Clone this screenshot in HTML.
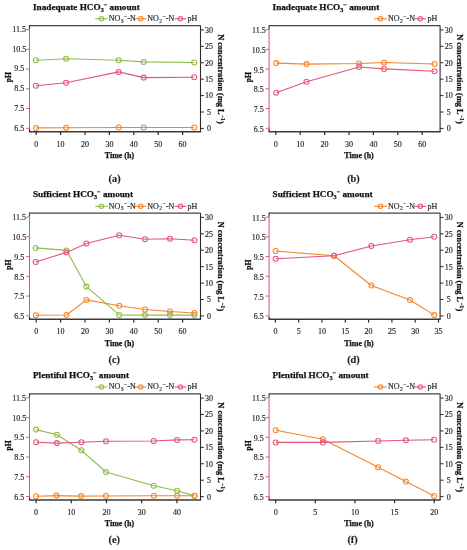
<!DOCTYPE html>
<html><head><meta charset="utf-8"><style>
html,body{margin:0;padding:0;background:#fff;}
svg{display:block;}
#w{width:467px;height:550px;will-change:transform;}
text{font-family:"Liberation Serif",serif;fill:#222;stroke:#222;stroke-width:0.15px;}
text.b{fill:#111;stroke:#111;stroke-width:0.25px;}
</style></head><body>
<div id="w"><svg width="467" height="550" viewBox="0 0 467 550">
<rect width="467" height="550" fill="#fff"/>
<g>
<text x="33" y="9.7" font-size="9.2" font-weight="bold" class="b">Inadequate HCO<tspan font-size="6.2" dy="1.8">3</tspan><tspan font-size="6.2" dy="-4.3">−</tspan><tspan dy="2.5"> amount</tspan></text>
<line x1="95.3" y1="18.8" x2="107.6" y2="18.8" stroke="#8fbb48" stroke-width="1.1"/><circle cx="101.45" cy="18.8" r="2.25" fill="none" stroke="#8fbb48" stroke-width="1.05"/>
<text x="108.7" y="21" font-size="8" text-anchor="start">NO<tspan font-size="5.5" dx="0.5" dy="1.7">3</tspan><tspan font-size="5.5" dx="0.4" dy="-5.0">−</tspan><tspan dx="0.3" dy="3.3">-N</tspan></text>
<line x1="134.9" y1="18.8" x2="146.4" y2="18.8" stroke="#f4852a" stroke-width="1.1"/><circle cx="140.65" cy="18.8" r="2.25" fill="none" stroke="#f4852a" stroke-width="1.05"/>
<text x="147.3" y="21" font-size="8" text-anchor="start">NO<tspan font-size="5.5" dx="0.5" dy="1.7">2</tspan><tspan font-size="5.5" dx="0.4" dy="-5.0">−</tspan><tspan dx="0.3" dy="3.3">-N</tspan></text>
<line x1="174.7" y1="18.8" x2="186.3" y2="18.8" stroke="#e0567a" stroke-width="1.1"/><circle cx="180.5" cy="18.8" r="2.25" fill="none" stroke="#e0567a" stroke-width="1.05"/>
<text x="187.6" y="21" font-size="8">pH</text>
<line x1="29.5" y1="25.6" x2="200.5" y2="25.6" stroke="#444" stroke-width="1.3"/>
<line x1="200.5" y1="25.6" x2="200.5" y2="131.6" stroke="#2a2a2a" stroke-width="1.1"/>
<line x1="29.5" y1="25" x2="29.5" y2="29.2" stroke="#444" stroke-width="1.2"/>
<line x1="29.5" y1="129" x2="29.5" y2="131.6" stroke="#2a2a2a" stroke-width="1.2"/>
<line x1="29.5" y1="29.1" x2="29.5" y2="129.1" stroke="#e0567a" stroke-width="1.05"/>
<line x1="28.9" y1="131.8" x2="201.1" y2="131.8" stroke="#3a3a3a" stroke-width="1.6"/>
<line x1="26.2" y1="29.6" x2="29.5" y2="29.6" stroke="#e0567a" stroke-width="1"/>
<text x="19.2" y="31.9" font-size="8" text-anchor="middle">11.5</text>
<line x1="26.2" y1="49.34" x2="29.5" y2="49.34" stroke="#e0567a" stroke-width="1"/>
<text x="19.2" y="51.64" font-size="8" text-anchor="middle">10.5</text>
<line x1="26.2" y1="69.08" x2="29.5" y2="69.08" stroke="#e0567a" stroke-width="1"/>
<text x="19.2" y="71.38" font-size="8" text-anchor="middle">9.5</text>
<line x1="26.2" y1="88.82" x2="29.5" y2="88.82" stroke="#e0567a" stroke-width="1"/>
<text x="19.2" y="91.12" font-size="8" text-anchor="middle">8.5</text>
<line x1="26.2" y1="108.56" x2="29.5" y2="108.56" stroke="#e0567a" stroke-width="1"/>
<text x="19.2" y="110.86" font-size="8" text-anchor="middle">7.5</text>
<line x1="26.2" y1="128.3" x2="29.5" y2="128.3" stroke="#e0567a" stroke-width="1"/>
<text x="19.2" y="130.6" font-size="8" text-anchor="middle">6.5</text>
<line x1="200.5" y1="29.9" x2="203.9" y2="29.9" stroke="#2a2a2a" stroke-width="1"/>
<text x="209.1" y="32.8" font-size="8" text-anchor="middle">30</text>
<line x1="200.5" y1="46.32" x2="203.9" y2="46.32" stroke="#2a2a2a" stroke-width="1"/>
<text x="209.1" y="49.22" font-size="8" text-anchor="middle">25</text>
<line x1="200.5" y1="62.74" x2="203.9" y2="62.74" stroke="#2a2a2a" stroke-width="1"/>
<text x="209.1" y="65.64" font-size="8" text-anchor="middle">20</text>
<line x1="200.5" y1="79.16" x2="203.9" y2="79.16" stroke="#2a2a2a" stroke-width="1"/>
<text x="209.1" y="82.06" font-size="8" text-anchor="middle">15</text>
<line x1="200.5" y1="95.58" x2="203.9" y2="95.58" stroke="#2a2a2a" stroke-width="1"/>
<text x="209.1" y="98.48" font-size="8" text-anchor="middle">10</text>
<line x1="200.5" y1="112" x2="203.9" y2="112" stroke="#2a2a2a" stroke-width="1"/>
<text x="209.1" y="114.9" font-size="8" text-anchor="middle">5</text>
<line x1="200.5" y1="128.42" x2="203.9" y2="128.42" stroke="#2a2a2a" stroke-width="1"/>
<text x="209.1" y="131.32" font-size="8" text-anchor="middle">0</text>
<line x1="36.2" y1="131.6" x2="36.2" y2="135" stroke="#2a2a2a" stroke-width="1.2"/>
<text x="36.2" y="146.6" font-size="8" text-anchor="middle">0</text>
<line x1="60.6" y1="131.6" x2="60.6" y2="135" stroke="#2a2a2a" stroke-width="1.2"/>
<text x="60.6" y="146.6" font-size="8" text-anchor="middle">10</text>
<line x1="85" y1="131.6" x2="85" y2="135" stroke="#2a2a2a" stroke-width="1.2"/>
<text x="85" y="146.6" font-size="8" text-anchor="middle">20</text>
<line x1="109.4" y1="131.6" x2="109.4" y2="135" stroke="#2a2a2a" stroke-width="1.2"/>
<text x="109.4" y="146.6" font-size="8" text-anchor="middle">30</text>
<line x1="133.8" y1="131.6" x2="133.8" y2="135" stroke="#2a2a2a" stroke-width="1.2"/>
<text x="133.8" y="146.6" font-size="8" text-anchor="middle">40</text>
<line x1="158.2" y1="131.6" x2="158.2" y2="135" stroke="#2a2a2a" stroke-width="1.2"/>
<text x="158.2" y="146.6" font-size="8" text-anchor="middle">50</text>
<line x1="182.6" y1="131.6" x2="182.6" y2="135" stroke="#2a2a2a" stroke-width="1.2"/>
<text x="182.6" y="146.6" font-size="8" text-anchor="middle">60</text>
<text x="119.45" y="158" font-size="8" font-weight="bold" class="b" text-anchor="middle">Time (h)</text>
<text transform="translate(10.9,77.2) rotate(-90)" font-size="7.6" font-weight="bold" class="b" text-anchor="middle">pH</text>
<text transform="translate(217.8,79) rotate(90)" font-size="8.3" font-weight="bold" class="b" text-anchor="middle">N concentration (mg L<tspan font-size="5.5" dx="0.4" dy="-3">−1</tspan><tspan dx="0.3" dy="3">)</tspan></text>
<text x="108.6" y="182.2" font-size="10.3" font-weight="bold" fill="#1a1a1a">(a)</text>
<polyline points="35.8,60.3 66.1,58.7 118.7,60.2 143.7,61.9 194.2,62.5" fill="none" stroke="#8fbb48" stroke-width="1.1" stroke-linejoin="round"/><circle cx="35.8" cy="60.3" r="2.5" fill="none" stroke="#8fbb48" stroke-width="1.05"/><circle cx="66.1" cy="58.7" r="2.5" fill="none" stroke="#8fbb48" stroke-width="1.05"/><circle cx="118.7" cy="60.2" r="2.5" fill="none" stroke="#8fbb48" stroke-width="1.05"/><circle cx="143.7" cy="61.9" r="2.5" fill="none" stroke="#8fbb48" stroke-width="1.05"/><circle cx="194.2" cy="62.5" r="2.5" fill="none" stroke="#8fbb48" stroke-width="1.05"/>
<polyline points="36,127.9 66.1,127.8 118.7,127.5 143.7,127.5 194.2,127.5" fill="none" stroke="#f4852a" stroke-width="1.1" stroke-linejoin="round"/><circle cx="36" cy="127.9" r="2.5" fill="none" stroke="#f4852a" stroke-width="1.05"/><circle cx="66.1" cy="127.8" r="2.5" fill="none" stroke="#f4852a" stroke-width="1.05"/><circle cx="118.7" cy="127.5" r="2.5" fill="none" stroke="#f4852a" stroke-width="1.05"/><circle cx="143.7" cy="127.5" r="2.5" fill="none" stroke="#f4852a" stroke-width="1.05"/><circle cx="194.2" cy="127.5" r="2.5" fill="none" stroke="#f4852a" stroke-width="1.05"/>
<polyline points="35.9,85.7 66.1,82.8 118.7,71.9 143.7,77.6 194.2,77.2" fill="none" stroke="#e0567a" stroke-width="1.1" stroke-linejoin="round"/><circle cx="35.9" cy="85.7" r="2.5" fill="none" stroke="#e0567a" stroke-width="1.05"/><circle cx="66.1" cy="82.8" r="2.5" fill="none" stroke="#e0567a" stroke-width="1.05"/><circle cx="118.7" cy="71.9" r="2.5" fill="none" stroke="#e0567a" stroke-width="1.05"/><circle cx="143.7" cy="77.6" r="2.5" fill="none" stroke="#e0567a" stroke-width="1.05"/><circle cx="194.2" cy="77.2" r="2.5" fill="none" stroke="#e0567a" stroke-width="1.05"/>
<text x="272.6" y="9.7" font-size="9.2" font-weight="bold" class="b">Inadequate HCO<tspan font-size="6.2" dy="1.8">3</tspan><tspan font-size="6.2" dy="-4.3">−</tspan><tspan dy="2.5"> amount</tspan></text>
<line x1="374.2" y1="18.8" x2="386.7" y2="18.8" stroke="#f4852a" stroke-width="1.1"/><circle cx="380.45" cy="18.8" r="2.25" fill="none" stroke="#f4852a" stroke-width="1.05"/>
<text x="387.9" y="21" font-size="8" text-anchor="start">NO<tspan font-size="5.5" dx="0.5" dy="1.7">2</tspan><tspan font-size="5.5" dx="0.4" dy="-5.0">−</tspan><tspan dx="0.3" dy="3.3">-N</tspan></text>
<line x1="414.6" y1="18.8" x2="426.1" y2="18.8" stroke="#e0567a" stroke-width="1.1"/><circle cx="420.35" cy="18.8" r="2.25" fill="none" stroke="#e0567a" stroke-width="1.05"/>
<text x="427.4" y="21" font-size="8">pH</text>
<line x1="269.1" y1="25.6" x2="440.1" y2="25.6" stroke="#444" stroke-width="1.3"/>
<line x1="440.1" y1="25.6" x2="440.1" y2="131.6" stroke="#2a2a2a" stroke-width="1.1"/>
<line x1="269.1" y1="25" x2="269.1" y2="29.2" stroke="#444" stroke-width="1.2"/>
<line x1="269.1" y1="129" x2="269.1" y2="131.6" stroke="#2a2a2a" stroke-width="1.2"/>
<line x1="269.1" y1="29.1" x2="269.1" y2="129.1" stroke="#e0567a" stroke-width="1.05"/>
<line x1="268.5" y1="131.8" x2="440.7" y2="131.8" stroke="#3a3a3a" stroke-width="1.6"/>
<line x1="265.8" y1="29.6" x2="269.1" y2="29.6" stroke="#e0567a" stroke-width="1"/>
<text x="258.8" y="33.25" font-size="8" text-anchor="middle">11.5</text>
<line x1="265.8" y1="49.34" x2="269.1" y2="49.34" stroke="#e0567a" stroke-width="1"/>
<text x="258.8" y="52.99" font-size="8" text-anchor="middle">10.5</text>
<line x1="265.8" y1="69.08" x2="269.1" y2="69.08" stroke="#e0567a" stroke-width="1"/>
<text x="258.8" y="72.73" font-size="8" text-anchor="middle">9.5</text>
<line x1="265.8" y1="88.82" x2="269.1" y2="88.82" stroke="#e0567a" stroke-width="1"/>
<text x="258.8" y="92.47" font-size="8" text-anchor="middle">8.5</text>
<line x1="265.8" y1="108.56" x2="269.1" y2="108.56" stroke="#e0567a" stroke-width="1"/>
<text x="258.8" y="112.21" font-size="8" text-anchor="middle">7.5</text>
<line x1="265.8" y1="128.3" x2="269.1" y2="128.3" stroke="#e0567a" stroke-width="1"/>
<text x="258.8" y="131.95" font-size="8" text-anchor="middle">6.5</text>
<line x1="440.1" y1="29.9" x2="443.5" y2="29.9" stroke="#2a2a2a" stroke-width="1"/>
<text x="448.7" y="32.8" font-size="8" text-anchor="middle">30</text>
<line x1="440.1" y1="46.32" x2="443.5" y2="46.32" stroke="#2a2a2a" stroke-width="1"/>
<text x="448.7" y="49.22" font-size="8" text-anchor="middle">25</text>
<line x1="440.1" y1="62.74" x2="443.5" y2="62.74" stroke="#2a2a2a" stroke-width="1"/>
<text x="448.7" y="65.64" font-size="8" text-anchor="middle">20</text>
<line x1="440.1" y1="79.16" x2="443.5" y2="79.16" stroke="#2a2a2a" stroke-width="1"/>
<text x="448.7" y="82.06" font-size="8" text-anchor="middle">15</text>
<line x1="440.1" y1="95.58" x2="443.5" y2="95.58" stroke="#2a2a2a" stroke-width="1"/>
<text x="448.7" y="98.48" font-size="8" text-anchor="middle">10</text>
<line x1="440.1" y1="112" x2="443.5" y2="112" stroke="#2a2a2a" stroke-width="1"/>
<text x="448.7" y="114.9" font-size="8" text-anchor="middle">5</text>
<line x1="440.1" y1="128.42" x2="443.5" y2="128.42" stroke="#2a2a2a" stroke-width="1"/>
<text x="448.7" y="131.32" font-size="8" text-anchor="middle">0</text>
<line x1="275.8" y1="131.6" x2="275.8" y2="135" stroke="#2a2a2a" stroke-width="1.2"/>
<text x="275.8" y="146.6" font-size="8" text-anchor="middle">0</text>
<line x1="300.2" y1="131.6" x2="300.2" y2="135" stroke="#2a2a2a" stroke-width="1.2"/>
<text x="300.2" y="146.6" font-size="8" text-anchor="middle">10</text>
<line x1="324.6" y1="131.6" x2="324.6" y2="135" stroke="#2a2a2a" stroke-width="1.2"/>
<text x="324.6" y="146.6" font-size="8" text-anchor="middle">20</text>
<line x1="349" y1="131.6" x2="349" y2="135" stroke="#2a2a2a" stroke-width="1.2"/>
<text x="349" y="146.6" font-size="8" text-anchor="middle">30</text>
<line x1="373.4" y1="131.6" x2="373.4" y2="135" stroke="#2a2a2a" stroke-width="1.2"/>
<text x="373.4" y="146.6" font-size="8" text-anchor="middle">40</text>
<line x1="397.8" y1="131.6" x2="397.8" y2="135" stroke="#2a2a2a" stroke-width="1.2"/>
<text x="397.8" y="146.6" font-size="8" text-anchor="middle">50</text>
<line x1="422.2" y1="131.6" x2="422.2" y2="135" stroke="#2a2a2a" stroke-width="1.2"/>
<text x="422.2" y="146.6" font-size="8" text-anchor="middle">60</text>
<text x="359.05" y="158" font-size="8" font-weight="bold" class="b" text-anchor="middle">Time (h)</text>
<text transform="translate(250.5,77.2) rotate(-90)" font-size="7.6" font-weight="bold" class="b" text-anchor="middle">pH</text>
<text transform="translate(457.4,79) rotate(90)" font-size="8.3" font-weight="bold" class="b" text-anchor="middle">N concentration (mg L<tspan font-size="5.5" dx="0.4" dy="-3">−1</tspan><tspan dx="0.3" dy="3">)</tspan></text>
<text x="347.2" y="182.2" font-size="10.3" font-weight="bold" fill="#1a1a1a">(b)</text>
<polyline points="276.2,63.1 306.5,64.1 359.1,63.5 384.1,62.5 434.5,64" fill="none" stroke="#f4852a" stroke-width="1.1" stroke-linejoin="round"/><circle cx="276.2" cy="63.1" r="2.5" fill="none" stroke="#f4852a" stroke-width="1.05"/><circle cx="306.5" cy="64.1" r="2.5" fill="none" stroke="#f4852a" stroke-width="1.05"/><circle cx="359.1" cy="63.5" r="2.5" fill="none" stroke="#f4852a" stroke-width="1.05"/><circle cx="384.1" cy="62.5" r="2.5" fill="none" stroke="#f4852a" stroke-width="1.05"/><circle cx="434.5" cy="64" r="2.5" fill="none" stroke="#f4852a" stroke-width="1.05"/>
<polyline points="276.2,92.8 306.5,81.8 359.1,67 384.1,68.9 434.5,71.3" fill="none" stroke="#e0567a" stroke-width="1.1" stroke-linejoin="round"/><circle cx="276.2" cy="92.8" r="2.5" fill="none" stroke="#e0567a" stroke-width="1.05"/><circle cx="306.5" cy="81.8" r="2.5" fill="none" stroke="#e0567a" stroke-width="1.05"/><circle cx="359.1" cy="67" r="2.5" fill="none" stroke="#e0567a" stroke-width="1.05"/><circle cx="384.1" cy="68.9" r="2.5" fill="none" stroke="#e0567a" stroke-width="1.05"/><circle cx="434.5" cy="71.3" r="2.5" fill="none" stroke="#e0567a" stroke-width="1.05"/>
<text x="33" y="196.8" font-size="9.2" font-weight="bold" class="b">Sufficient HCO<tspan font-size="6.2" dy="1.8">3</tspan><tspan font-size="6.2" dy="-4.3">−</tspan><tspan dy="2.5"> amount</tspan></text>
<line x1="95.3" y1="206.3" x2="107.6" y2="206.3" stroke="#8fbb48" stroke-width="1.1"/><circle cx="101.45" cy="206.3" r="2.25" fill="none" stroke="#8fbb48" stroke-width="1.05"/>
<text x="108.7" y="208.5" font-size="8" text-anchor="start">NO<tspan font-size="5.5" dx="0.5" dy="1.7">3</tspan><tspan font-size="5.5" dx="0.4" dy="-5.0">−</tspan><tspan dx="0.3" dy="3.3">-N</tspan></text>
<line x1="134.9" y1="206.3" x2="146.4" y2="206.3" stroke="#f4852a" stroke-width="1.1"/><circle cx="140.65" cy="206.3" r="2.25" fill="none" stroke="#f4852a" stroke-width="1.05"/>
<text x="147.3" y="208.5" font-size="8" text-anchor="start">NO<tspan font-size="5.5" dx="0.5" dy="1.7">2</tspan><tspan font-size="5.5" dx="0.4" dy="-5.0">−</tspan><tspan dx="0.3" dy="3.3">-N</tspan></text>
<line x1="174.7" y1="206.3" x2="186.3" y2="206.3" stroke="#e0567a" stroke-width="1.1"/><circle cx="180.5" cy="206.3" r="2.25" fill="none" stroke="#e0567a" stroke-width="1.05"/>
<text x="187.6" y="208.5" font-size="8">pH</text>
<line x1="29.5" y1="213.1" x2="200.5" y2="213.1" stroke="#444" stroke-width="1.3"/>
<line x1="200.5" y1="213.1" x2="200.5" y2="319.1" stroke="#2a2a2a" stroke-width="1.1"/>
<line x1="29.5" y1="212.5" x2="29.5" y2="216.7" stroke="#444" stroke-width="1.2"/>
<line x1="29.5" y1="316.5" x2="29.5" y2="319.1" stroke="#2a2a2a" stroke-width="1.2"/>
<line x1="29.5" y1="216.6" x2="29.5" y2="316.6" stroke="#e0567a" stroke-width="1.05"/>
<line x1="28.9" y1="319.3" x2="201.1" y2="319.3" stroke="#3a3a3a" stroke-width="1.6"/>
<line x1="26.2" y1="217.1" x2="29.5" y2="217.1" stroke="#e0567a" stroke-width="1"/>
<text x="19.2" y="220.4" font-size="8" text-anchor="middle">11.5</text>
<line x1="26.2" y1="236.84" x2="29.5" y2="236.84" stroke="#e0567a" stroke-width="1"/>
<text x="19.2" y="240.14" font-size="8" text-anchor="middle">10.5</text>
<line x1="26.2" y1="256.58" x2="29.5" y2="256.58" stroke="#e0567a" stroke-width="1"/>
<text x="19.2" y="259.88" font-size="8" text-anchor="middle">9.5</text>
<line x1="26.2" y1="276.32" x2="29.5" y2="276.32" stroke="#e0567a" stroke-width="1"/>
<text x="19.2" y="279.62" font-size="8" text-anchor="middle">8.5</text>
<line x1="26.2" y1="296.06" x2="29.5" y2="296.06" stroke="#e0567a" stroke-width="1"/>
<text x="19.2" y="299.36" font-size="8" text-anchor="middle">7.5</text>
<line x1="26.2" y1="315.8" x2="29.5" y2="315.8" stroke="#e0567a" stroke-width="1"/>
<text x="19.2" y="319.1" font-size="8" text-anchor="middle">6.5</text>
<line x1="200.5" y1="217.4" x2="203.9" y2="217.4" stroke="#2a2a2a" stroke-width="1"/>
<text x="209.1" y="220.3" font-size="8" text-anchor="middle">30</text>
<line x1="200.5" y1="233.82" x2="203.9" y2="233.82" stroke="#2a2a2a" stroke-width="1"/>
<text x="209.1" y="236.72" font-size="8" text-anchor="middle">25</text>
<line x1="200.5" y1="250.24" x2="203.9" y2="250.24" stroke="#2a2a2a" stroke-width="1"/>
<text x="209.1" y="253.14" font-size="8" text-anchor="middle">20</text>
<line x1="200.5" y1="266.66" x2="203.9" y2="266.66" stroke="#2a2a2a" stroke-width="1"/>
<text x="209.1" y="269.56" font-size="8" text-anchor="middle">15</text>
<line x1="200.5" y1="283.08" x2="203.9" y2="283.08" stroke="#2a2a2a" stroke-width="1"/>
<text x="209.1" y="285.98" font-size="8" text-anchor="middle">10</text>
<line x1="200.5" y1="299.5" x2="203.9" y2="299.5" stroke="#2a2a2a" stroke-width="1"/>
<text x="209.1" y="302.4" font-size="8" text-anchor="middle">5</text>
<line x1="200.5" y1="315.92" x2="203.9" y2="315.92" stroke="#2a2a2a" stroke-width="1"/>
<text x="209.1" y="318.82" font-size="8" text-anchor="middle">0</text>
<line x1="36.2" y1="319.1" x2="36.2" y2="322.5" stroke="#2a2a2a" stroke-width="1.2"/>
<text x="36.2" y="334.1" font-size="8" text-anchor="middle">0</text>
<line x1="60.6" y1="319.1" x2="60.6" y2="322.5" stroke="#2a2a2a" stroke-width="1.2"/>
<text x="60.6" y="334.1" font-size="8" text-anchor="middle">10</text>
<line x1="85" y1="319.1" x2="85" y2="322.5" stroke="#2a2a2a" stroke-width="1.2"/>
<text x="85" y="334.1" font-size="8" text-anchor="middle">20</text>
<line x1="109.4" y1="319.1" x2="109.4" y2="322.5" stroke="#2a2a2a" stroke-width="1.2"/>
<text x="109.4" y="334.1" font-size="8" text-anchor="middle">30</text>
<line x1="133.8" y1="319.1" x2="133.8" y2="322.5" stroke="#2a2a2a" stroke-width="1.2"/>
<text x="133.8" y="334.1" font-size="8" text-anchor="middle">40</text>
<line x1="158.2" y1="319.1" x2="158.2" y2="322.5" stroke="#2a2a2a" stroke-width="1.2"/>
<text x="158.2" y="334.1" font-size="8" text-anchor="middle">50</text>
<line x1="182.6" y1="319.1" x2="182.6" y2="322.5" stroke="#2a2a2a" stroke-width="1.2"/>
<text x="182.6" y="334.1" font-size="8" text-anchor="middle">60</text>
<text x="119.45" y="345.5" font-size="8" font-weight="bold" class="b" text-anchor="middle">Time (h)</text>
<text transform="translate(10.9,264.7) rotate(-90)" font-size="7.6" font-weight="bold" class="b" text-anchor="middle">pH</text>
<text transform="translate(217.8,266.5) rotate(90)" font-size="8.3" font-weight="bold" class="b" text-anchor="middle">N concentration (mg L<tspan font-size="5.5" dx="0.4" dy="-3">−1</tspan><tspan dx="0.3" dy="3">)</tspan></text>
<text x="108.6" y="363.2" font-size="10.3" font-weight="bold" fill="#1a1a1a">(c)</text>
<polyline points="35.7,247.9 66.5,250.4 86.4,286.6 119.2,314.9 145,315.1 170,315.1 194.4,315.1" fill="none" stroke="#8fbb48" stroke-width="1.1" stroke-linejoin="round"/><circle cx="35.7" cy="247.9" r="2.5" fill="none" stroke="#8fbb48" stroke-width="1.05"/><circle cx="66.5" cy="250.4" r="2.5" fill="none" stroke="#8fbb48" stroke-width="1.05"/><circle cx="86.4" cy="286.6" r="2.5" fill="none" stroke="#8fbb48" stroke-width="1.05"/><circle cx="119.2" cy="314.9" r="2.5" fill="none" stroke="#8fbb48" stroke-width="1.05"/><circle cx="145" cy="315.1" r="2.5" fill="none" stroke="#8fbb48" stroke-width="1.05"/><circle cx="170" cy="315.1" r="2.5" fill="none" stroke="#8fbb48" stroke-width="1.05"/><circle cx="194.4" cy="315.1" r="2.5" fill="none" stroke="#8fbb48" stroke-width="1.05"/>
<polyline points="35.9,315.2 66.5,315 86.4,299.9 119.2,305.7 145,309.5 170,311.5 194.4,313" fill="none" stroke="#f4852a" stroke-width="1.1" stroke-linejoin="round"/><circle cx="35.9" cy="315.2" r="2.5" fill="none" stroke="#f4852a" stroke-width="1.05"/><circle cx="66.5" cy="315" r="2.5" fill="none" stroke="#f4852a" stroke-width="1.05"/><circle cx="86.4" cy="299.9" r="2.5" fill="none" stroke="#f4852a" stroke-width="1.05"/><circle cx="119.2" cy="305.7" r="2.5" fill="none" stroke="#f4852a" stroke-width="1.05"/><circle cx="145" cy="309.5" r="2.5" fill="none" stroke="#f4852a" stroke-width="1.05"/><circle cx="170" cy="311.5" r="2.5" fill="none" stroke="#f4852a" stroke-width="1.05"/><circle cx="194.4" cy="313" r="2.5" fill="none" stroke="#f4852a" stroke-width="1.05"/>
<polyline points="35.7,262 66.5,252.4 86.4,243.5 119.2,235.3 145,239.3 170,238.7 194.4,240.3" fill="none" stroke="#e0567a" stroke-width="1.1" stroke-linejoin="round"/><circle cx="35.7" cy="262" r="2.5" fill="none" stroke="#e0567a" stroke-width="1.05"/><circle cx="66.5" cy="252.4" r="2.5" fill="none" stroke="#e0567a" stroke-width="1.05"/><circle cx="86.4" cy="243.5" r="2.5" fill="none" stroke="#e0567a" stroke-width="1.05"/><circle cx="119.2" cy="235.3" r="2.5" fill="none" stroke="#e0567a" stroke-width="1.05"/><circle cx="145" cy="239.3" r="2.5" fill="none" stroke="#e0567a" stroke-width="1.05"/><circle cx="170" cy="238.7" r="2.5" fill="none" stroke="#e0567a" stroke-width="1.05"/><circle cx="194.4" cy="240.3" r="2.5" fill="none" stroke="#e0567a" stroke-width="1.05"/>
<text x="272.6" y="196.8" font-size="9.2" font-weight="bold" class="b">Sufficient HCO<tspan font-size="6.2" dy="1.8">3</tspan><tspan font-size="6.2" dy="-4.3">−</tspan><tspan dy="2.5"> amount</tspan></text>
<line x1="374.2" y1="206.3" x2="386.7" y2="206.3" stroke="#f4852a" stroke-width="1.1"/><circle cx="380.45" cy="206.3" r="2.25" fill="none" stroke="#f4852a" stroke-width="1.05"/>
<text x="387.9" y="208.5" font-size="8" text-anchor="start">NO<tspan font-size="5.5" dx="0.5" dy="1.7">2</tspan><tspan font-size="5.5" dx="0.4" dy="-5.0">−</tspan><tspan dx="0.3" dy="3.3">-N</tspan></text>
<line x1="414.6" y1="206.3" x2="426.1" y2="206.3" stroke="#e0567a" stroke-width="1.1"/><circle cx="420.35" cy="206.3" r="2.25" fill="none" stroke="#e0567a" stroke-width="1.05"/>
<text x="427.4" y="208.5" font-size="8">pH</text>
<line x1="269.1" y1="213.1" x2="440.1" y2="213.1" stroke="#444" stroke-width="1.3"/>
<line x1="440.1" y1="213.1" x2="440.1" y2="319.1" stroke="#2a2a2a" stroke-width="1.1"/>
<line x1="269.1" y1="212.5" x2="269.1" y2="216.7" stroke="#444" stroke-width="1.2"/>
<line x1="269.1" y1="316.5" x2="269.1" y2="319.1" stroke="#2a2a2a" stroke-width="1.2"/>
<line x1="269.1" y1="216.6" x2="269.1" y2="316.6" stroke="#e0567a" stroke-width="1.05"/>
<line x1="268.5" y1="319.3" x2="440.7" y2="319.3" stroke="#3a3a3a" stroke-width="1.6"/>
<line x1="265.8" y1="217.1" x2="269.1" y2="217.1" stroke="#e0567a" stroke-width="1"/>
<text x="258.8" y="220.7" font-size="8" text-anchor="middle">11.5</text>
<line x1="265.8" y1="236.84" x2="269.1" y2="236.84" stroke="#e0567a" stroke-width="1"/>
<text x="258.8" y="240.44" font-size="8" text-anchor="middle">10.5</text>
<line x1="265.8" y1="256.58" x2="269.1" y2="256.58" stroke="#e0567a" stroke-width="1"/>
<text x="258.8" y="260.18" font-size="8" text-anchor="middle">9.5</text>
<line x1="265.8" y1="276.32" x2="269.1" y2="276.32" stroke="#e0567a" stroke-width="1"/>
<text x="258.8" y="279.92" font-size="8" text-anchor="middle">8.5</text>
<line x1="265.8" y1="296.06" x2="269.1" y2="296.06" stroke="#e0567a" stroke-width="1"/>
<text x="258.8" y="299.66" font-size="8" text-anchor="middle">7.5</text>
<line x1="265.8" y1="315.8" x2="269.1" y2="315.8" stroke="#e0567a" stroke-width="1"/>
<text x="258.8" y="319.4" font-size="8" text-anchor="middle">6.5</text>
<line x1="440.1" y1="217.4" x2="443.5" y2="217.4" stroke="#2a2a2a" stroke-width="1"/>
<text x="448.7" y="220.3" font-size="8" text-anchor="middle">30</text>
<line x1="440.1" y1="233.82" x2="443.5" y2="233.82" stroke="#2a2a2a" stroke-width="1"/>
<text x="448.7" y="236.72" font-size="8" text-anchor="middle">25</text>
<line x1="440.1" y1="250.24" x2="443.5" y2="250.24" stroke="#2a2a2a" stroke-width="1"/>
<text x="448.7" y="253.14" font-size="8" text-anchor="middle">20</text>
<line x1="440.1" y1="266.66" x2="443.5" y2="266.66" stroke="#2a2a2a" stroke-width="1"/>
<text x="448.7" y="269.56" font-size="8" text-anchor="middle">15</text>
<line x1="440.1" y1="283.08" x2="443.5" y2="283.08" stroke="#2a2a2a" stroke-width="1"/>
<text x="448.7" y="285.98" font-size="8" text-anchor="middle">10</text>
<line x1="440.1" y1="299.5" x2="443.5" y2="299.5" stroke="#2a2a2a" stroke-width="1"/>
<text x="448.7" y="302.4" font-size="8" text-anchor="middle">5</text>
<line x1="440.1" y1="315.92" x2="443.5" y2="315.92" stroke="#2a2a2a" stroke-width="1"/>
<text x="448.7" y="318.82" font-size="8" text-anchor="middle">0</text>
<line x1="275.4" y1="319.1" x2="275.4" y2="322.5" stroke="#2a2a2a" stroke-width="1.2"/>
<text x="275.4" y="334.1" font-size="8" text-anchor="middle">0</text>
<line x1="298.7" y1="319.1" x2="298.7" y2="322.5" stroke="#2a2a2a" stroke-width="1.2"/>
<text x="298.7" y="334.1" font-size="8" text-anchor="middle">5</text>
<line x1="322" y1="319.1" x2="322" y2="322.5" stroke="#2a2a2a" stroke-width="1.2"/>
<text x="322" y="334.1" font-size="8" text-anchor="middle">10</text>
<line x1="345.3" y1="319.1" x2="345.3" y2="322.5" stroke="#2a2a2a" stroke-width="1.2"/>
<text x="345.3" y="334.1" font-size="8" text-anchor="middle">15</text>
<line x1="368.6" y1="319.1" x2="368.6" y2="322.5" stroke="#2a2a2a" stroke-width="1.2"/>
<text x="368.6" y="334.1" font-size="8" text-anchor="middle">20</text>
<line x1="391.9" y1="319.1" x2="391.9" y2="322.5" stroke="#2a2a2a" stroke-width="1.2"/>
<text x="391.9" y="334.1" font-size="8" text-anchor="middle">25</text>
<line x1="415.2" y1="319.1" x2="415.2" y2="322.5" stroke="#2a2a2a" stroke-width="1.2"/>
<text x="415.2" y="334.1" font-size="8" text-anchor="middle">30</text>
<line x1="438.5" y1="319.1" x2="438.5" y2="322.5" stroke="#2a2a2a" stroke-width="1.2"/>
<text x="438.5" y="334.1" font-size="8" text-anchor="middle">35</text>
<text x="359.05" y="345.5" font-size="8" font-weight="bold" class="b" text-anchor="middle">Time (h)</text>
<text transform="translate(250.5,264.7) rotate(-90)" font-size="7.6" font-weight="bold" class="b" text-anchor="middle">pH</text>
<text transform="translate(457.4,266.5) rotate(90)" font-size="8.3" font-weight="bold" class="b" text-anchor="middle">N concentration (mg L<tspan font-size="5.5" dx="0.4" dy="-3">−1</tspan><tspan dx="0.3" dy="3">)</tspan></text>
<text x="347.2" y="363.2" font-size="10.3" font-weight="bold" fill="#1a1a1a">(d)</text>
<polyline points="275.7,251 334,255.8 371.4,285.5 410,300 434.2,315.1" fill="none" stroke="#f4852a" stroke-width="1.1" stroke-linejoin="round"/><circle cx="275.7" cy="251" r="2.5" fill="none" stroke="#f4852a" stroke-width="1.05"/><circle cx="334" cy="255.8" r="2.5" fill="none" stroke="#f4852a" stroke-width="1.05"/><circle cx="371.4" cy="285.5" r="2.5" fill="none" stroke="#f4852a" stroke-width="1.05"/><circle cx="410" cy="300" r="2.5" fill="none" stroke="#f4852a" stroke-width="1.05"/><circle cx="434.2" cy="315.1" r="2.5" fill="none" stroke="#f4852a" stroke-width="1.05"/>
<polyline points="275.7,258.7 334,255.8 371.4,246 410,239.7 434.2,236.7" fill="none" stroke="#e0567a" stroke-width="1.1" stroke-linejoin="round"/><circle cx="275.7" cy="258.7" r="2.5" fill="none" stroke="#e0567a" stroke-width="1.05"/><circle cx="334" cy="255.8" r="2.5" fill="none" stroke="#e0567a" stroke-width="1.05"/><circle cx="371.4" cy="246" r="2.5" fill="none" stroke="#e0567a" stroke-width="1.05"/><circle cx="410" cy="239.7" r="2.5" fill="none" stroke="#e0567a" stroke-width="1.05"/><circle cx="434.2" cy="236.7" r="2.5" fill="none" stroke="#e0567a" stroke-width="1.05"/>
<text x="33" y="377.9" font-size="9.2" font-weight="bold" class="b">Plentiful HCO<tspan font-size="6.2" dy="1.8">3</tspan><tspan font-size="6.2" dy="-4.3">−</tspan><tspan dy="2.5"> amount</tspan></text>
<line x1="95.3" y1="387" x2="107.6" y2="387" stroke="#8fbb48" stroke-width="1.1"/><circle cx="101.45" cy="387" r="2.25" fill="none" stroke="#8fbb48" stroke-width="1.05"/>
<text x="108.7" y="389.2" font-size="8" text-anchor="start">NO<tspan font-size="5.5" dx="0.5" dy="1.7">3</tspan><tspan font-size="5.5" dx="0.4" dy="-5.0">−</tspan><tspan dx="0.3" dy="3.3">-N</tspan></text>
<line x1="134.9" y1="387" x2="146.4" y2="387" stroke="#f4852a" stroke-width="1.1"/><circle cx="140.65" cy="387" r="2.25" fill="none" stroke="#f4852a" stroke-width="1.05"/>
<text x="147.3" y="389.2" font-size="8" text-anchor="start">NO<tspan font-size="5.5" dx="0.5" dy="1.7">2</tspan><tspan font-size="5.5" dx="0.4" dy="-5.0">−</tspan><tspan dx="0.3" dy="3.3">-N</tspan></text>
<line x1="174.7" y1="387" x2="186.3" y2="387" stroke="#e0567a" stroke-width="1.1"/><circle cx="180.5" cy="387" r="2.25" fill="none" stroke="#e0567a" stroke-width="1.05"/>
<text x="187.6" y="389.2" font-size="8">pH</text>
<line x1="29.5" y1="393.8" x2="200.5" y2="393.8" stroke="#444" stroke-width="1.3"/>
<line x1="200.5" y1="393.8" x2="200.5" y2="499.8" stroke="#2a2a2a" stroke-width="1.1"/>
<line x1="29.5" y1="393.2" x2="29.5" y2="397.4" stroke="#444" stroke-width="1.2"/>
<line x1="29.5" y1="497.2" x2="29.5" y2="499.8" stroke="#2a2a2a" stroke-width="1.2"/>
<line x1="29.5" y1="397.3" x2="29.5" y2="497.3" stroke="#e0567a" stroke-width="1.05"/>
<line x1="28.9" y1="500" x2="201.1" y2="500" stroke="#3a3a3a" stroke-width="1.6"/>
<line x1="26.2" y1="397.8" x2="29.5" y2="397.8" stroke="#e0567a" stroke-width="1"/>
<text x="19.2" y="400.9" font-size="8" text-anchor="middle">11.5</text>
<line x1="26.2" y1="417.54" x2="29.5" y2="417.54" stroke="#e0567a" stroke-width="1"/>
<text x="19.2" y="420.64" font-size="8" text-anchor="middle">10.5</text>
<line x1="26.2" y1="437.28" x2="29.5" y2="437.28" stroke="#e0567a" stroke-width="1"/>
<text x="19.2" y="440.38" font-size="8" text-anchor="middle">9.5</text>
<line x1="26.2" y1="457.02" x2="29.5" y2="457.02" stroke="#e0567a" stroke-width="1"/>
<text x="19.2" y="460.12" font-size="8" text-anchor="middle">8.5</text>
<line x1="26.2" y1="476.76" x2="29.5" y2="476.76" stroke="#e0567a" stroke-width="1"/>
<text x="19.2" y="479.86" font-size="8" text-anchor="middle">7.5</text>
<line x1="26.2" y1="496.5" x2="29.5" y2="496.5" stroke="#e0567a" stroke-width="1"/>
<text x="19.2" y="499.6" font-size="8" text-anchor="middle">6.5</text>
<line x1="200.5" y1="398.1" x2="203.9" y2="398.1" stroke="#2a2a2a" stroke-width="1"/>
<text x="209.1" y="401" font-size="8" text-anchor="middle">30</text>
<line x1="200.5" y1="414.52" x2="203.9" y2="414.52" stroke="#2a2a2a" stroke-width="1"/>
<text x="209.1" y="417.42" font-size="8" text-anchor="middle">25</text>
<line x1="200.5" y1="430.94" x2="203.9" y2="430.94" stroke="#2a2a2a" stroke-width="1"/>
<text x="209.1" y="433.84" font-size="8" text-anchor="middle">20</text>
<line x1="200.5" y1="447.36" x2="203.9" y2="447.36" stroke="#2a2a2a" stroke-width="1"/>
<text x="209.1" y="450.26" font-size="8" text-anchor="middle">15</text>
<line x1="200.5" y1="463.78" x2="203.9" y2="463.78" stroke="#2a2a2a" stroke-width="1"/>
<text x="209.1" y="466.68" font-size="8" text-anchor="middle">10</text>
<line x1="200.5" y1="480.2" x2="203.9" y2="480.2" stroke="#2a2a2a" stroke-width="1"/>
<text x="209.1" y="483.1" font-size="8" text-anchor="middle">5</text>
<line x1="200.5" y1="496.62" x2="203.9" y2="496.62" stroke="#2a2a2a" stroke-width="1"/>
<text x="209.1" y="499.52" font-size="8" text-anchor="middle">0</text>
<line x1="36.1" y1="499.8" x2="36.1" y2="503.2" stroke="#2a2a2a" stroke-width="1.2"/>
<text x="36.1" y="514.8" font-size="8" text-anchor="middle">0</text>
<line x1="71.3" y1="499.8" x2="71.3" y2="503.2" stroke="#2a2a2a" stroke-width="1.2"/>
<text x="71.3" y="514.8" font-size="8" text-anchor="middle">10</text>
<line x1="106.5" y1="499.8" x2="106.5" y2="503.2" stroke="#2a2a2a" stroke-width="1.2"/>
<text x="106.5" y="514.8" font-size="8" text-anchor="middle">20</text>
<line x1="141.7" y1="499.8" x2="141.7" y2="503.2" stroke="#2a2a2a" stroke-width="1.2"/>
<text x="141.7" y="514.8" font-size="8" text-anchor="middle">30</text>
<line x1="176.9" y1="499.8" x2="176.9" y2="503.2" stroke="#2a2a2a" stroke-width="1.2"/>
<text x="176.9" y="514.8" font-size="8" text-anchor="middle">40</text>
<text x="119.45" y="526.2" font-size="8" font-weight="bold" class="b" text-anchor="middle">Time (h)</text>
<text transform="translate(10.9,445.4) rotate(-90)" font-size="7.6" font-weight="bold" class="b" text-anchor="middle">pH</text>
<text transform="translate(217.8,447.2) rotate(90)" font-size="8.3" font-weight="bold" class="b" text-anchor="middle">N concentration (mg L<tspan font-size="5.5" dx="0.4" dy="-3">−1</tspan><tspan dx="0.3" dy="3">)</tspan></text>
<text x="108.6" y="543.2" font-size="10.3" font-weight="bold" fill="#1a1a1a">(e)</text>
<polyline points="36.1,429.6 56.9,434.8 81.4,450.3 106,472 153.7,485.7 177.1,490.8 194.4,495.9" fill="none" stroke="#8fbb48" stroke-width="1.1" stroke-linejoin="round"/><circle cx="36.1" cy="429.6" r="2.5" fill="none" stroke="#8fbb48" stroke-width="1.05"/><circle cx="56.9" cy="434.8" r="2.5" fill="none" stroke="#8fbb48" stroke-width="1.05"/><circle cx="81.4" cy="450.3" r="2.5" fill="none" stroke="#8fbb48" stroke-width="1.05"/><circle cx="106" cy="472" r="2.5" fill="none" stroke="#8fbb48" stroke-width="1.05"/><circle cx="153.7" cy="485.7" r="2.5" fill="none" stroke="#8fbb48" stroke-width="1.05"/><circle cx="177.1" cy="490.8" r="2.5" fill="none" stroke="#8fbb48" stroke-width="1.05"/><circle cx="194.4" cy="495.9" r="2.5" fill="none" stroke="#8fbb48" stroke-width="1.05"/>
<polyline points="36.1,496.2 56.5,495.6 81,496.1 106,496 153.9,495.8 177,495.8 194.6,495.8" fill="none" stroke="#f4852a" stroke-width="1.1" stroke-linejoin="round"/><circle cx="36.1" cy="496.2" r="2.5" fill="none" stroke="#f4852a" stroke-width="1.05"/><circle cx="56.5" cy="495.6" r="2.5" fill="none" stroke="#f4852a" stroke-width="1.05"/><circle cx="81" cy="496.1" r="2.5" fill="none" stroke="#f4852a" stroke-width="1.05"/><circle cx="106" cy="496" r="2.5" fill="none" stroke="#f4852a" stroke-width="1.05"/><circle cx="153.9" cy="495.8" r="2.5" fill="none" stroke="#f4852a" stroke-width="1.05"/><circle cx="177" cy="495.8" r="2.5" fill="none" stroke="#f4852a" stroke-width="1.05"/><circle cx="194.6" cy="495.8" r="2.5" fill="none" stroke="#f4852a" stroke-width="1.05"/>
<polyline points="36.1,442.2 56.9,443.1 81.4,442.2 106,441.2 153.7,441 177.1,439.9 194.4,439.7" fill="none" stroke="#e0567a" stroke-width="1.1" stroke-linejoin="round"/><circle cx="36.1" cy="442.2" r="2.5" fill="none" stroke="#e0567a" stroke-width="1.05"/><circle cx="56.9" cy="443.1" r="2.5" fill="none" stroke="#e0567a" stroke-width="1.05"/><circle cx="81.4" cy="442.2" r="2.5" fill="none" stroke="#e0567a" stroke-width="1.05"/><circle cx="106" cy="441.2" r="2.5" fill="none" stroke="#e0567a" stroke-width="1.05"/><circle cx="153.7" cy="441" r="2.5" fill="none" stroke="#e0567a" stroke-width="1.05"/><circle cx="177.1" cy="439.9" r="2.5" fill="none" stroke="#e0567a" stroke-width="1.05"/><circle cx="194.4" cy="439.7" r="2.5" fill="none" stroke="#e0567a" stroke-width="1.05"/>
<text x="272.6" y="377.9" font-size="9.2" font-weight="bold" class="b">Plentiful HCO<tspan font-size="6.2" dy="1.8">3</tspan><tspan font-size="6.2" dy="-4.3">−</tspan><tspan dy="2.5"> amount</tspan></text>
<line x1="374.2" y1="387" x2="386.7" y2="387" stroke="#f4852a" stroke-width="1.1"/><circle cx="380.45" cy="387" r="2.25" fill="none" stroke="#f4852a" stroke-width="1.05"/>
<text x="387.9" y="389.2" font-size="8" text-anchor="start">NO<tspan font-size="5.5" dx="0.5" dy="1.7">2</tspan><tspan font-size="5.5" dx="0.4" dy="-5.0">−</tspan><tspan dx="0.3" dy="3.3">-N</tspan></text>
<line x1="414.6" y1="387" x2="426.1" y2="387" stroke="#e0567a" stroke-width="1.1"/><circle cx="420.35" cy="387" r="2.25" fill="none" stroke="#e0567a" stroke-width="1.05"/>
<text x="427.4" y="389.2" font-size="8">pH</text>
<line x1="269.1" y1="393.8" x2="440.1" y2="393.8" stroke="#444" stroke-width="1.3"/>
<line x1="440.1" y1="393.8" x2="440.1" y2="499.8" stroke="#2a2a2a" stroke-width="1.1"/>
<line x1="269.1" y1="393.2" x2="269.1" y2="397.4" stroke="#444" stroke-width="1.2"/>
<line x1="269.1" y1="497.2" x2="269.1" y2="499.8" stroke="#2a2a2a" stroke-width="1.2"/>
<line x1="269.1" y1="397.3" x2="269.1" y2="497.3" stroke="#e0567a" stroke-width="1.05"/>
<line x1="268.5" y1="500" x2="440.7" y2="500" stroke="#3a3a3a" stroke-width="1.6"/>
<line x1="265.8" y1="397.8" x2="269.1" y2="397.8" stroke="#e0567a" stroke-width="1"/>
<text x="258.8" y="401.1" font-size="8" text-anchor="middle">11.5</text>
<line x1="265.8" y1="417.54" x2="269.1" y2="417.54" stroke="#e0567a" stroke-width="1"/>
<text x="258.8" y="420.84" font-size="8" text-anchor="middle">10.5</text>
<line x1="265.8" y1="437.28" x2="269.1" y2="437.28" stroke="#e0567a" stroke-width="1"/>
<text x="258.8" y="440.58" font-size="8" text-anchor="middle">9.5</text>
<line x1="265.8" y1="457.02" x2="269.1" y2="457.02" stroke="#e0567a" stroke-width="1"/>
<text x="258.8" y="460.32" font-size="8" text-anchor="middle">8.5</text>
<line x1="265.8" y1="476.76" x2="269.1" y2="476.76" stroke="#e0567a" stroke-width="1"/>
<text x="258.8" y="480.06" font-size="8" text-anchor="middle">7.5</text>
<line x1="265.8" y1="496.5" x2="269.1" y2="496.5" stroke="#e0567a" stroke-width="1"/>
<text x="258.8" y="499.8" font-size="8" text-anchor="middle">6.5</text>
<line x1="440.1" y1="398.1" x2="443.5" y2="398.1" stroke="#2a2a2a" stroke-width="1"/>
<text x="448.7" y="401" font-size="8" text-anchor="middle">30</text>
<line x1="440.1" y1="414.52" x2="443.5" y2="414.52" stroke="#2a2a2a" stroke-width="1"/>
<text x="448.7" y="417.42" font-size="8" text-anchor="middle">25</text>
<line x1="440.1" y1="430.94" x2="443.5" y2="430.94" stroke="#2a2a2a" stroke-width="1"/>
<text x="448.7" y="433.84" font-size="8" text-anchor="middle">20</text>
<line x1="440.1" y1="447.36" x2="443.5" y2="447.36" stroke="#2a2a2a" stroke-width="1"/>
<text x="448.7" y="450.26" font-size="8" text-anchor="middle">15</text>
<line x1="440.1" y1="463.78" x2="443.5" y2="463.78" stroke="#2a2a2a" stroke-width="1"/>
<text x="448.7" y="466.68" font-size="8" text-anchor="middle">10</text>
<line x1="440.1" y1="480.2" x2="443.5" y2="480.2" stroke="#2a2a2a" stroke-width="1"/>
<text x="448.7" y="483.1" font-size="8" text-anchor="middle">5</text>
<line x1="440.1" y1="496.62" x2="443.5" y2="496.62" stroke="#2a2a2a" stroke-width="1"/>
<text x="448.7" y="499.52" font-size="8" text-anchor="middle">0</text>
<line x1="275.7" y1="499.8" x2="275.7" y2="503.2" stroke="#2a2a2a" stroke-width="1.2"/>
<text x="275.7" y="514.8" font-size="8" text-anchor="middle">0</text>
<line x1="315.32" y1="499.8" x2="315.32" y2="503.2" stroke="#2a2a2a" stroke-width="1.2"/>
<text x="315.32" y="514.8" font-size="8" text-anchor="middle">5</text>
<line x1="354.95" y1="499.8" x2="354.95" y2="503.2" stroke="#2a2a2a" stroke-width="1.2"/>
<text x="354.95" y="514.8" font-size="8" text-anchor="middle">10</text>
<line x1="394.57" y1="499.8" x2="394.57" y2="503.2" stroke="#2a2a2a" stroke-width="1.2"/>
<text x="394.57" y="514.8" font-size="8" text-anchor="middle">15</text>
<line x1="434.2" y1="499.8" x2="434.2" y2="503.2" stroke="#2a2a2a" stroke-width="1.2"/>
<text x="434.2" y="514.8" font-size="8" text-anchor="middle">20</text>
<text x="359.05" y="526.2" font-size="8" font-weight="bold" class="b" text-anchor="middle">Time (h)</text>
<text transform="translate(250.5,445.4) rotate(-90)" font-size="7.6" font-weight="bold" class="b" text-anchor="middle">pH</text>
<text transform="translate(457.4,447.2) rotate(90)" font-size="8.3" font-weight="bold" class="b" text-anchor="middle">N concentration (mg L<tspan font-size="5.5" dx="0.4" dy="-3">−1</tspan><tspan dx="0.3" dy="3">)</tspan></text>
<text x="347.4" y="543.2" font-size="10.3" font-weight="bold" fill="#1a1a1a">(f)</text>
<polyline points="275.7,430.2 322.9,439.3 378.1,467.2 405.9,481.4 434.1,495.9" fill="none" stroke="#f4852a" stroke-width="1.1" stroke-linejoin="round"/><circle cx="275.7" cy="430.2" r="2.5" fill="none" stroke="#f4852a" stroke-width="1.05"/><circle cx="322.9" cy="439.3" r="2.5" fill="none" stroke="#f4852a" stroke-width="1.05"/><circle cx="378.1" cy="467.2" r="2.5" fill="none" stroke="#f4852a" stroke-width="1.05"/><circle cx="405.9" cy="481.4" r="2.5" fill="none" stroke="#f4852a" stroke-width="1.05"/><circle cx="434.1" cy="495.9" r="2.5" fill="none" stroke="#f4852a" stroke-width="1.05"/>
<polyline points="275.7,442.4 322.9,442.4 378.1,441 405.9,440.3 434.1,439.7" fill="none" stroke="#e0567a" stroke-width="1.1" stroke-linejoin="round"/><circle cx="275.7" cy="442.4" r="2.5" fill="none" stroke="#e0567a" stroke-width="1.05"/><circle cx="322.9" cy="442.4" r="2.5" fill="none" stroke="#e0567a" stroke-width="1.05"/><circle cx="378.1" cy="441" r="2.5" fill="none" stroke="#e0567a" stroke-width="1.05"/><circle cx="405.9" cy="440.3" r="2.5" fill="none" stroke="#e0567a" stroke-width="1.05"/><circle cx="434.1" cy="439.7" r="2.5" fill="none" stroke="#e0567a" stroke-width="1.05"/>
</g>
</svg></div>
</body></html>
